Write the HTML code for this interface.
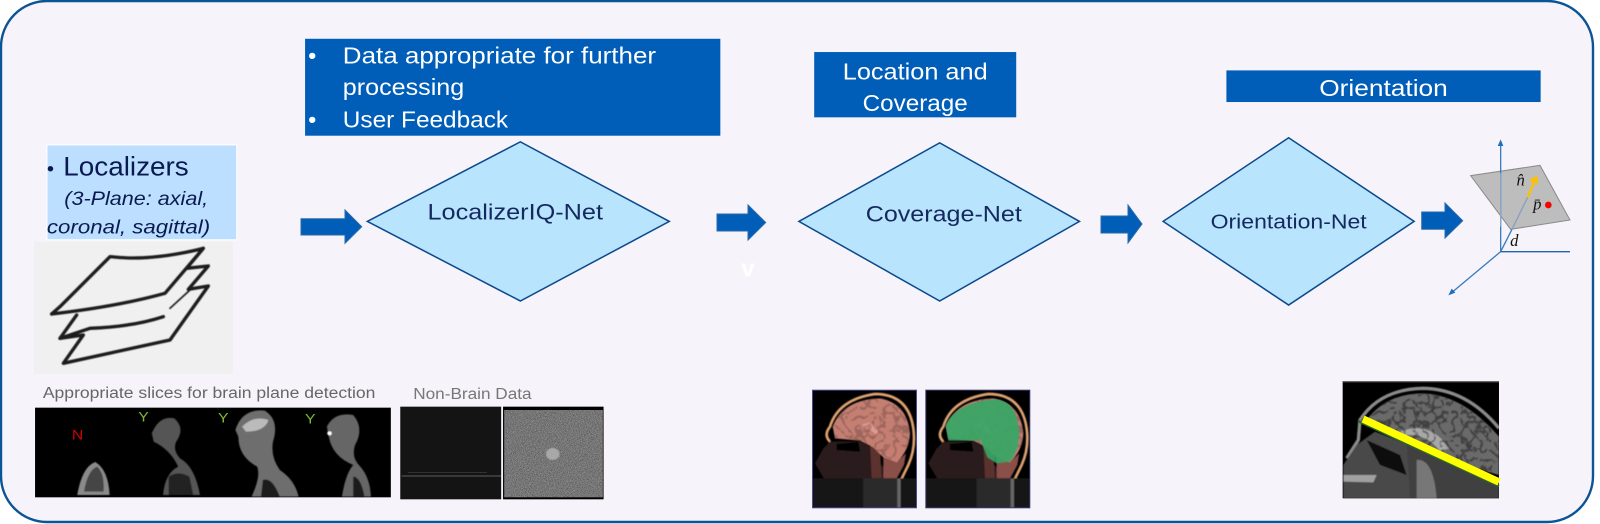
<!DOCTYPE html>
<html><head><meta charset="utf-8"><style>
html,body{margin:0;padding:0;background:#fff}
svg{display:block}
text{font-family:"Liberation Sans","DejaVu Sans",sans-serif}
</style></head><body>
<svg xmlns="http://www.w3.org/2000/svg" width="1600" height="524" viewBox="0 0 1600 524">
<defs>
<filter id="b1" x="-10%" y="-10%" width="120%" height="120%"><feGaussianBlur stdDeviation="1.5"/></filter>
<filter id="noise" x="0" y="0" width="100%" height="100%"><feTurbulence type="fractalNoise" baseFrequency="0.55" numOctaves="2" seed="4"/><feColorMatrix values="0 0 0 0 0  0 0 0 0 0  0 0 0 0 0  0 0 0 1.2 -0.45"/></filter>
<filter id="gyri" x="0" y="0" width="100%" height="100%"><feTurbulence type="turbulence" baseFrequency="0.035" numOctaves="2" seed="7"/><feColorMatrix values="0 0 0 0 0  0 0 0 0 0  0 0 0 0 0  0 0 0 -7 1.6"/><feGaussianBlur stdDeviation="1.5"/></filter>
<clipPath id="c1"><rect x="97" y="60" width="313" height="354"/></clipPath>
<clipPath id="c5"><rect x="128" y="48" width="469" height="352"/></clipPath>
<clipPath id="cb"><path d="M158 170 Q190 88 300 85 Q382 100 390 190 Q388 240 350 278 L310 262 L280 232 L240 212 L165 205Z"/></clipPath>
<clipPath id="cm"><path d="M200 165 Q260 85 370 85 Q490 90 597 215 L597 330 Q450 290 330 225 L200 175Z"/></clipPath>
</defs>
<rect x="1" y="1" width="1592" height="521" rx="46" ry="46" fill="#f7f3fa" stroke="#0b5596" stroke-width="2.4"/>

<g transform="scale(1.0203)">
<rect x="299" y="38" width="407" height="95" fill="#005eb8"/>
<g fill="#fff" font-size="23">
<text x="302" y="62">•</text>
<text x="336" y="62" textLength="307" lengthAdjust="spacingAndGlyphs">Data appropriate for further</text>
<text x="336" y="93" textLength="119" lengthAdjust="spacingAndGlyphs">processing</text>
<text x="302" y="125">•</text>
<text x="336" y="125" textLength="162" lengthAdjust="spacingAndGlyphs">User Feedback</text>
</g>
<rect x="798" y="51" width="198" height="64" fill="#005eb8"/>
<text x="897" y="78" fill="#fff" font-size="23" text-anchor="middle" textLength="142" lengthAdjust="spacingAndGlyphs">Location and</text>
<text x="897" y="109" fill="#fff" font-size="23" text-anchor="middle" textLength="103" lengthAdjust="spacingAndGlyphs">Coverage</text>
<rect x="1202" y="69" width="308" height="31" fill="#005eb8"/>
<text x="1356" y="94" fill="#fff" font-size="23" text-anchor="middle" textLength="126" lengthAdjust="spacingAndGlyphs">Orientation</text>

<g fill="#b9e4fd" stroke="#0b4a8c" stroke-width="1.5">
<polygon points="360,217 510,139 656,217 510,295"/>
<polygon points="783,217 921,140 1058,217 921,295"/>
<polygon points="1140,217 1263,135 1386,217 1263,299"/>
</g>
<text x="505" y="215" fill="#15295e" font-size="22" text-anchor="middle" textLength="172" lengthAdjust="spacingAndGlyphs">LocalizerIQ-Net</text>
<text x="925" y="217" fill="#15295e" font-size="22" text-anchor="middle" textLength="153" lengthAdjust="spacingAndGlyphs">Coverage-Net</text>
<text x="1263" y="224" fill="#15295e" font-size="20" text-anchor="middle" textLength="153" lengthAdjust="spacingAndGlyphs">Orientation-Net</text>

<rect x="46" y="142" width="186" height="93" fill="#bddfff" stroke="#fff" stroke-width="1"/>
<text x="46" y="172" fill="#0a1a50" font-size="20">•</text>
<text x="62" y="172" fill="#0a1a50" font-size="26" textLength="123" lengthAdjust="spacingAndGlyphs">Localizers</text>
<text x="63" y="201" fill="#0a1a50" font-size="19" font-style="italic" textLength="141" lengthAdjust="spacingAndGlyphs">(3-Plane: axial,</text>
<text x="46" y="229" fill="#0a1a50" font-size="19" font-style="italic" textLength="160" lengthAdjust="spacingAndGlyphs">coronal, sagittal)</text>

<text x="42" y="390" fill="#666" font-size="15.5" textLength="326" lengthAdjust="spacingAndGlyphs">Appropriate slices for brain plane detection</text>
<text x="405" y="391" fill="#777" font-size="15.5" textLength="116" lengthAdjust="spacingAndGlyphs">Non-Brain Data</text>
<text x="733" y="271" fill="#fff" font-size="24" font-weight="bold" text-anchor="middle">v</text>
</g>

<!-- arrows -->
<g fill="#005eb8" stroke="#2a6aa8" stroke-width="1">
<polygon points="301,218.7 345,218.7 345,210 361.7,226.7 345,243.3 345,235 301,235"/>
<polygon points="717,214 748,214 748,205 765.7,222.5 748,240 748,231 717,231"/>
<polygon points="1101,216 1128,216 1128,205 1142,224 1128,243 1128,233 1101,233"/>
<polygon points="1421.7,212 1445,212 1445,203 1462.7,220.7 1445,238 1445,229.3 1421.7,229.3"/>
</g>

<!-- sketch -->
<rect x="34" y="241.7" width="199" height="132.3" fill="#f0f0f0"/>
<g transform="translate(0,130) scale(.3333)" fill="none" stroke="#1a1a1a" stroke-width="10" stroke-linejoin="round" stroke-linecap="round" filter="url(#b1)">
<path d="M155 552 L180 530 L330 380 Q450 395 610 355 L560 415 L625 408 L565 478 L625 468 L510 630 L190 700 L250 615 L180 625 L230 555"/>
<path d="M155 552 Q350 530 495 490 L610 355"/>
<path d="M180 625 L270 595 Q400 590 490 560"/>
<path d="M510 535 L570 480" stroke-width="5"/>
</g>

<!-- slices -->
<g transform="translate(20,370) scale(.3765,.3333)">
<rect x="40" y="113" width="945" height="269" fill="#000"/>
<g filter="url(#b1)">
<path d="M152 375 Q165 290 200 276 Q235 300 238 375Z" fill="#8a8a8a"/>
<path d="M170 365 Q180 300 205 290 Q225 310 222 365Z" fill="#444"/>
<path d="M350 190 Q370 135 410 145 Q440 175 415 215 Q405 240 425 265 Q465 290 478 375 L380 375 Q385 310 420 290 Q400 240 355 215Z" fill="#555"/>
<path d="M395 320 Q420 300 450 320 L460 375 L395 375Z" fill="#222"/>
<path d="M572 180 Q590 115 650 122 Q690 150 672 215 Q665 260 690 300 Q730 330 740 380 L615 380 Q640 320 630 290 Q580 260 580 200Z" fill="#6e6e6e"/>
<path d="M590 170 Q620 135 660 150 Q650 185 600 185Z" fill="#bbb"/>
<path d="M645 330 Q670 320 690 380 L640 380Z" fill="#1c1c1c"/>
<path d="M815 170 Q835 125 885 135 Q915 175 890 225 Q880 260 900 285 Q930 320 932 380 L855 380 Q865 310 885 285 Q830 260 820 200Z" fill="#666"/>
<circle cx="822" cy="190" r="6" fill="#fff"/>
<path d="M885 320 Q905 320 915 380 L885 380Z" fill="#1c1c1c"/>
</g>
<text x="153" y="208" fill="#d00000" font-size="42" text-anchor="middle">N</text>
<text x="328" y="155" fill="#7cb82f" font-size="42" text-anchor="middle">Y</text>
<text x="540" y="157" fill="#7cb82f" font-size="42" text-anchor="middle">Y</text>
<text x="771" y="160" fill="#7cb82f" font-size="42" text-anchor="middle">Y</text>
<rect x="1010" y="110" width="268" height="278" fill="#141414"/>
<path d="M1014 318H1278" stroke="#777" stroke-width="2"/>
<path d="M1030 307H1240" stroke="#444" stroke-width="2"/>
<rect x="1283" y="110" width="267" height="278" fill="#000"/>
<rect x="1286" y="120" width="262" height="262" fill="#8c8c8c"/>
<rect x="1286" y="120" width="262" height="262" filter="url(#noise)"/>
<circle cx="1415" cy="252" r="18" fill="#a8a8a8" filter="url(#b1)"/>
</g>

<!-- brains -->
<g transform="translate(780,370) scale(.3333)">
<g id="head" clip-path="url(#c1)">
<rect x="97" y="60" width="313" height="354" fill="#000"/>
<g filter="url(#b1)">
<path d="M130 235 L105 280 L140 340 L140 414 L345 414 L350 340 L300 280 L280 235 L240 215 L150 215Z" fill="#2c1a1a"/>
<path d="M170 222 L235 216 L240 245 L170 240Z" fill="#050202"/>
<path d="M270 215 L300 235 L305 325 L275 325Z" fill="#5b312e"/>
<path d="M150 215 Q130 195 150 170 Q175 88 285 72 Q385 72 400 175 Q408 235 385 285 L358 340" fill="none" stroke="#dca070" stroke-width="8"/>
<path d="M158 170 Q190 88 300 85 Q382 100 390 190 Q388 240 350 278 L310 262 L280 232 L240 212 L165 205Z" fill="#c47e72"/>
<path d="M240 170 Q270 145 295 175 L290 195 Q265 170 240 180Z" fill="#e09a90"/>
<path d="M310 262 L350 278 L378 250 L372 285 L345 335 L310 330Z" fill="#8a4f48"/>
<rect x="97" y="325" width="313" height="89" fill="#151515"/>
<rect x="250" y="325" width="105" height="89" fill="#2a2a2a"/>
<rect x="352" y="325" width="10" height="89" fill="#666"/>
</g>
<g clip-path="url(#cb)"><rect x="150" y="80" width="250" height="210" filter="url(#gyri)" opacity=".2"/></g>
</g>
<rect x="97.5" y="60.5" width="312" height="353" fill="none" stroke="#4a4a90" stroke-width="3"/>
<g transform="translate(340,0)">
<use href="#head"/>
<rect x="97.5" y="60.5" width="312" height="353" fill="none" stroke="#3a3a70" stroke-width="3"/>
<path d="M157 165 Q190 98 300 88 Q372 88 378 190 Q378 240 350 275 L310 280 L282 262 L262 212 L165 212Z" fill="#36a866" filter="url(#b1)" opacity=".9"/>
</g>
</g>

<!-- MRI -->
<g transform="translate(1300,365) scale(.3333)">
<rect x="128" y="48" width="469" height="352" fill="#000"/>
<rect x="128" y="48" width="469" height="4" fill="#666"/>
<g clip-path="url(#c5)">
<g filter="url(#b1)">
<path d="M140 280 L175 225 L180 165 Q240 72 370 70 Q500 72 597 190" fill="none" stroke="#8a8a8a" stroke-width="10"/>
<path d="M200 165 Q260 85 370 85 Q490 90 597 215 L597 330 Q450 290 330 225 L200 175Z" fill="#6a6a6a"/>
<path d="M130 300 L170 240 L225 200 L330 240 L350 400 L130 400Z" fill="#4a4a4a"/>
<path d="M200 225 L300 270 L320 330 L240 300Z" fill="#101010"/>
<path d="M130 330 L230 330 L220 352 L130 350Z" fill="#a0a0a0"/>
<path d="M320 230 Q450 280 597 340 L597 400 L330 400Z" fill="#404040"/>
<path d="M350 285 Q400 280 410 400 L350 400Z" fill="#777"/>
<path d="M300 200 Q390 165 448 250 L420 258 Q380 205 315 210Z" fill="#a8a8a8"/>
</g>
<g clip-path="url(#cm)"><rect x="190" y="80" width="410" height="260" filter="url(#gyri)" opacity=".4"/></g>
</g>
</g>
<path d="M1358 421 L1499 486" stroke="#2a6a2a" stroke-width="2.5"/>
<path d="M1363 419 L1499 482" stroke="#ffff00" stroke-width="7.5"/>

<!-- axes -->
<g transform="translate(1380,120) scale(.3333)">
<polygon points="272,167 480,136 570,300 392,328" fill="#bdbdbd" stroke="#8a8a8a" stroke-width="3"/>
<path d="M362 395V70" stroke="#3a7cc0" stroke-width="4" fill="none"/>
<path d="M362 160V320" stroke="#8aa6c4" stroke-width="4" fill="none"/>
<polygon points="353,78 362,58 370,78" fill="#1f6fbd"/>
<path d="M362 395H570" stroke="#1f66a8" stroke-width="4"/>
<path d="M362 395L215 518" stroke="#3a7cc0" stroke-width="4"/>
<polygon points="205,526 215,506 226,518" fill="#1f6fbd"/>
<path d="M362 395L396 328" stroke="#3a7cc0" stroke-width="4"/>
<path d="M396 328L443 232" stroke="#8aa0bc" stroke-width="4"/>
<path d="M443 232L463 185" stroke="#ffc000" stroke-width="7"/>
<polygon points="447,180 472,167 474,193" fill="#ffc000"/>
<circle cx="505" cy="255" r="10" fill="#f00"/>
<text x="422" y="197" fill="#111" font-size="50" font-style="italic" text-anchor="middle" style="font-family:'Liberation Serif',serif">n̂</text>
<text x="472" y="268" fill="#111" font-size="50" font-style="italic" text-anchor="middle" style="font-family:'Liberation Serif',serif">p̄</text>
<text x="403" y="378" fill="#111" font-size="50" font-style="italic" text-anchor="middle" style="font-family:'Liberation Serif',serif">d</text>
</g>
</svg>
</body></html>
